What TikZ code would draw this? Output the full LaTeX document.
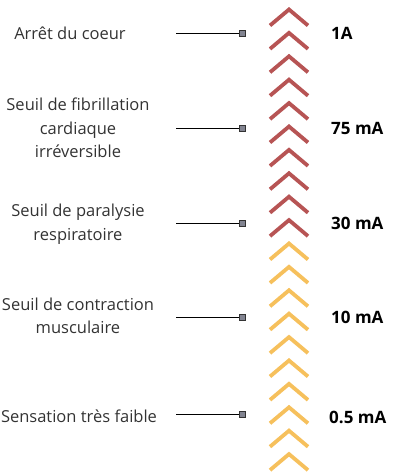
\documentclass[tikz,border=0pt]{standalone}
\usepackage{fontspec}
\setmainfont{Open Sans}
\usepackage{tikz}

\definecolor{chevred}{RGB}{183,84,84}
\definecolor{chevyellow}{RGB}{246,192,92}
\definecolor{markgray}{RGB}{130,132,145}

\begin{document}
\begin{tikzpicture}[x=1pt, y=-1pt, every node/.style={inner sep=0pt}]
	\tikzset{
		legend/.style={align=center, font=\fontsize{16.5}{23.5}\selectfont, text=black!80},
		amps/.style={anchor=west, font=\fontsize{17}{20}\selectfont\bfseries},
		marker/.style={rectangle, draw=black!80, fill=markgray, minimum size=6pt, line width=0.8pt},
		chev/.style={line width=3.8pt, miter limit=10}
	}
	\useasboundingbox (0,0) rectangle (400,472);
	% chevrons
	\foreach \k in {0,...,19} {
		\ifnum\k<10 \def\col{chevred}\else \def\col{chevyellow}\fi
		\draw[chev, \col] (270,{25.5+23.4*\k}) -- (289,{9.5+23.4*\k}) -- (308,{25.5+23.4*\k});
	}
	% labels
	\node[legend] (t1) at (70,33)  {Arrêt du coeur};
	\node[legend] (t2) at (78,128) {Seuil de fibrillation\\cardiaque\\irréversible};
	\node[legend] (t3) at (78,224) {Seuil de paralysie\\respiratoire};
	\node[legend] (t4) at (78,316) {Seuil de contraction\\musculaire};
	\node[legend] (t5) at (79,416) {Sensation très faible};
	% markers
	\coordinate (l1) at (176,33);
	\coordinate (l2) at (176,128);
	\coordinate (l3) at (176,223);
	\coordinate (l4) at (176,317);
	\coordinate (l5) at (176,414);
	\node[marker] (m1) at (242,33)  {};
	\node[marker] (m2) at (242,128) {};
	\node[marker] (m3) at (242,223) {};
	\node[marker] (m4) at (242,317) {};
	\node[marker] (m5) at (242,414) {};
	\draw[line width=0.9pt] (l1) -- (m1);
	\draw[line width=0.9pt] (l2) -- (m2);
	\draw[line width=0.9pt] (l3) -- (m3);
	\draw[line width=0.9pt] (l4) -- (m4);
	\draw[line width=0.9pt] (l5) -- (m5);
	% currents
	\node[amps] (a1) at (331,33)  {1A};
	\node[amps] (a2) at (331,128) {75 mA};
	\node[amps] (a3) at (331,223) {30 mA};
	\node[amps] (a4) at (331,317) {10 mA};
	\node[amps] (a5) at (329,417) {0.5 mA};
\end{tikzpicture}
\end{document}
